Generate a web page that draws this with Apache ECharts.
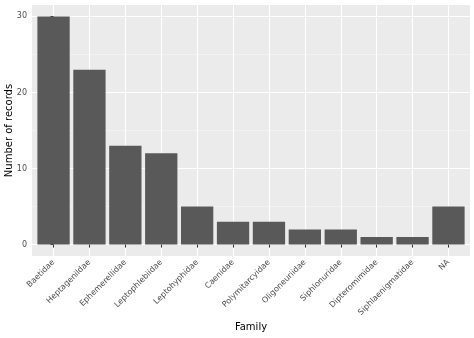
<!DOCTYPE html>
<html>
<head>
<meta charset="utf-8">
<script src="https://cdn.jsdelivr.net/npm/echarts@6/dist/echarts.min.js"></script>
<style>html,body{margin:0;padding:0;background:#fff;}#c{width:474px;height:338px;}</style>
</head>
<body>
<div id="c"></div>
<script>
const categories = ["Baetidae","Heptagenildae","Ephemerellidae","Leptophlebiidae","Leptohyphidae","Caenidae","Polymitarcyidae","Oligoneuriidae","Siphlonuridae","Dipteromimidae","Siphlaenigmatidae","NA"];
const records = [30, 23, 13, 12, 5, 3, 3, 2, 2, 1, 1, 5];
const yTicks = [0, 10, 20, 30];
const yMinor = [5, 15, 25];

const idx = categories.map((c, i) => i);
const font = "DejaVu Sans";
const chart = echarts.init(document.getElementById('c'), null, {renderer: 'canvas'});
chart.setOption({
  animation: false,
  backgroundColor: '#ffffff',
  grid: {left: 32, top: 5, right: 4, bottom: 82, show: true, backgroundColor: '#EBEBEB', borderWidth: 0,
    containLabel: false, outerBoundsMode: 'none'},
  xAxis: {
    type: 'value', min: -0.6, max: categories.length - 0.4,
    name: 'Family', nameLocation: 'middle', nameGap: 66, nameMoveOverlap: false,
    nameTextStyle: {fontFamily: font, fontSize: 10, color: '#000'},
    axisLine: {show: false},
    axisTick: {show: true, length: 3, customValues: idx, lineStyle: {color: '#333333', width: 1}},
    axisLabel: {customValues: idx, formatter: v => categories[Math.round(v)], rotate: 45, margin: 5,
      fontFamily: font, fontSize: 8, color: '#4D4D4D'},
    splitLine: {show: true, lineStyle: {color: '#ffffff', width: 1}}
  },
  yAxis: [{
    type: 'value', min: -1.5, max: 31.5,
    name: 'Number of records', nameLocation: 'middle', nameGap: 18, nameMoveOverlap: false,
    nameTextStyle: {fontFamily: font, fontSize: 10, color: '#000'},
    axisLine: {show: false},
    axisTick: {show: true, length: 3, customValues: yTicks, lineStyle: {color: '#333333', width: 1}},
    axisLabel: {customValues: yTicks, margin: 5, fontFamily: font, fontSize: 8, color: '#4D4D4D'},
    splitLine: {show: true, lineStyle: {color: '#ffffff', width: 1}}
  }, {
    type: 'value', min: -1.5, max: 31.5, position: 'left',
    axisLine: {show: false},
    axisTick: {show: false, customValues: yMinor},
    axisLabel: {show: false, customValues: yMinor},
    splitLine: {show: true, lineStyle: {color: '#F7F7F7', width: 0.6}}
  }],
  series: [{
    type: 'bar', xAxisIndex: 0, yAxisIndex: 0,
    data: records.map((v, i) => [i, v]),
    barWidth: '90%',
    itemStyle: {color: '#595959'}
  }]
});
</script>
</body>
</html>
